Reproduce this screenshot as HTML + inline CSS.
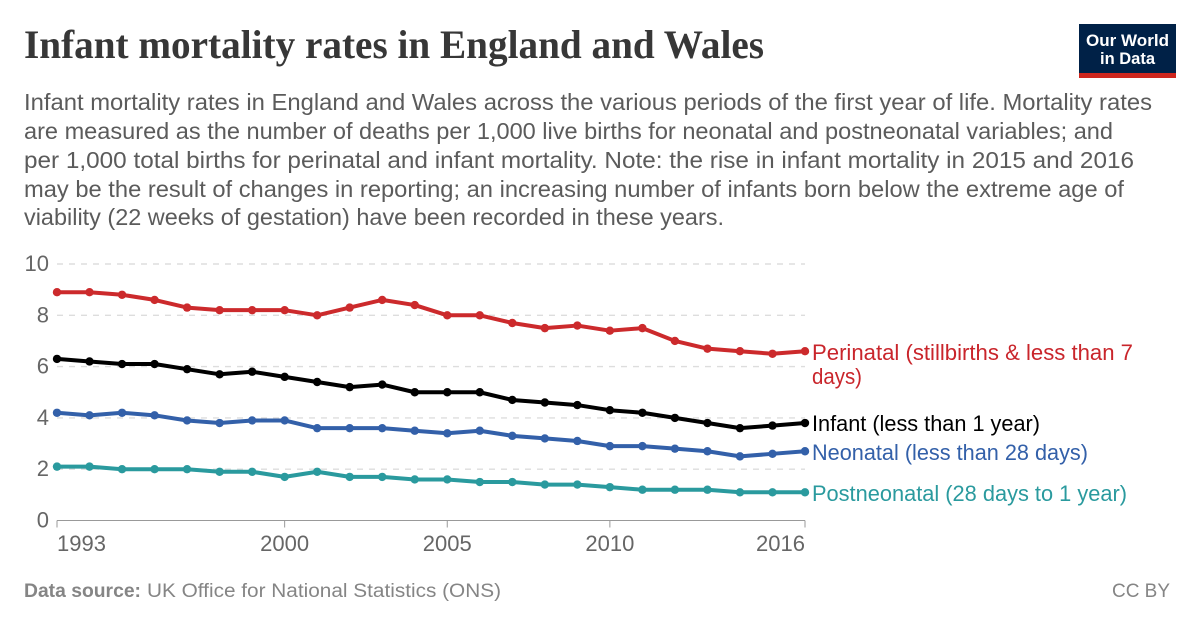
<!DOCTYPE html>
<html lang="en">
<head>
<meta charset="utf-8">
<title>Infant mortality rates in England and Wales</title>
<style>
html,body{margin:0;padding:0;background:#fff;width:1200px;height:627px;overflow:hidden}
svg{display:block}
text{font-family:"Liberation Sans",sans-serif}
.sub{font-size:23px;fill:#5b5b5b}
.foot{font-size:19px;fill:#858585}
.tick{font-size:22px;fill:#666}
.lab{font-size:22.5px}
</style>
</head>
<body>
<svg id="chart" xmlns="http://www.w3.org/2000/svg" width="1200" height="627" viewBox="0 0 1200 627">
  <rect x="0" y="0" width="1200" height="627" fill="#fff"/>
  <text x="24" y="58" textLength="740" lengthAdjust="spacingAndGlyphs" style="font-family:'Liberation Serif',serif;font-weight:700;font-size:40px;fill:#373737">Infant mortality rates in England and Wales</text>

  <g>
    <rect x="1079" y="24" width="97" height="54" fill="#002147"/>
    <rect x="1079" y="73" width="97" height="5" fill="#ce261e"/>
    <text x="1127.5" y="46" text-anchor="middle" textLength="83" lengthAdjust="spacingAndGlyphs" style="font-size:17px;font-weight:700;fill:#fff">Our World</text>
    <text x="1127.5" y="64" text-anchor="middle" textLength="55" lengthAdjust="spacingAndGlyphs" style="font-size:17px;font-weight:700;fill:#fff">in Data</text>
  </g>

  <g>
    <text class="sub" x="24" y="110" textLength="1128" lengthAdjust="spacingAndGlyphs">Infant mortality rates in England and Wales across the various periods of the first year of life. Mortality rates</text>
    <text class="sub" x="24" y="139" textLength="1089" lengthAdjust="spacingAndGlyphs">are measured as the number of deaths per 1,000 live births for neonatal and postneonatal variables; and</text>
    <text class="sub" x="24" y="168" textLength="1110" lengthAdjust="spacingAndGlyphs">per 1,000 total births for perinatal and infant mortality. Note: the rise in infant mortality in 2015 and 2016</text>
    <text class="sub" x="24" y="197" textLength="1100" lengthAdjust="spacingAndGlyphs">may be the result of changes in reporting; an increasing number of infants born below the extreme age of</text>
    <text class="sub" x="24" y="225" textLength="700" lengthAdjust="spacingAndGlyphs">viability (22 weeks of gestation) have been recorded in these years.</text>
  </g>

  <g id="grid"></g>
  <g id="yticks"></g>
  <g id="xaxis"></g>
  <g id="series"></g>

  <g>
    <text class="lab" x="812" y="360" fill="#c9252b" textLength="321" lengthAdjust="spacingAndGlyphs">Perinatal (stillbirths &amp; less than 7</text>
    <text class="lab" x="812" y="384" fill="#c9252b" textLength="50" lengthAdjust="spacingAndGlyphs">days)</text>
    <text class="lab" x="812" y="431" fill="#000" textLength="228" lengthAdjust="spacingAndGlyphs">Infant (less than 1 year)</text>
    <text class="lab" x="812" y="460" fill="#3360a9" textLength="276" lengthAdjust="spacingAndGlyphs">Neonatal (less than 28 days)</text>
    <text class="lab" x="812" y="501" fill="#2a9a9e" textLength="315" lengthAdjust="spacingAndGlyphs">Postneonatal (28 days to 1 year)</text>
  </g>

  <g>
    <text class="foot" x="24" y="597" textLength="117" lengthAdjust="spacingAndGlyphs" style="font-weight:700">Data source:</text>
    <text class="foot" x="147" y="597" textLength="354" lengthAdjust="spacingAndGlyphs">UK Office for National Statistics (ONS)</text>
    <text class="foot" x="1112" y="597" textLength="58" lengthAdjust="spacingAndGlyphs">CC BY</text>
  </g>
</svg>
<script>
const years = [1993,1994,1995,1996,1997,1998,1999,2000,2001,2002,2003,2004,2005,2006,2007,2008,2009,2010,2011,2012,2013,2014,2015,2016];
const perinatal = [8.9,8.9,8.8,8.6,8.3,8.2,8.2,8.2,8.0,8.3,8.6,8.4,8.0,8.0,7.7,7.5,7.6,7.4,7.5,7.0,6.7,6.6,6.5,6.6];
const infant = [6.3,6.2,6.1,6.1,5.9,5.7,5.8,5.6,5.4,5.2,5.3,5.0,5.0,5.0,4.7,4.6,4.5,4.3,4.2,4.0,3.8,3.6,3.7,3.8];
const neonatal = [4.2,4.1,4.2,4.1,3.9,3.8,3.9,3.9,3.6,3.6,3.6,3.5,3.4,3.5,3.3,3.2,3.1,2.9,2.9,2.8,2.7,2.5,2.6,2.7];
const postneonatal = [2.1,2.1,2.0,2.0,2.0,1.9,1.9,1.7,1.9,1.7,1.7,1.6,1.6,1.5,1.5,1.4,1.4,1.3,1.2,1.2,1.2,1.1,1.1,1.1];
const yTickValues = [0,2,4,6,8,10];
const xTickYears = [1993,2000,2005,2010,2016];

const NS = 'http://www.w3.org/2000/svg';
const X0 = 57, X1 = 805, Y0 = 520.5, Y10 = 264;
const xMin = years[0], xMax = years[years.length - 1];
function xScale(v) { return X0 + (v - xMin) / (xMax - xMin) * (X1 - X0); }
function yScale(v) { return Y0 - v / 10 * (Y0 - Y10); }
function make(tag, attrs, parent) {
  const el = document.createElementNS(NS, tag);
  for (const k in attrs) el.setAttribute(k, attrs[k]);
  parent.appendChild(el);
  return el;
}

const grid = document.getElementById('grid');
const yAxis = document.getElementById('yticks');
yTickValues.forEach(function (v) {
  if (v > 0) {
    const line = make('line', {x1: X0, x2: X1, y1: yScale(v), y2: yScale(v), stroke: '#dddddd', 'stroke-width': 1.4, 'stroke-dasharray': '6,6'}, grid);
    
    
  }
  const t = make('text', {x: 49, y: yScale(v) + 7, 'text-anchor': 'end', class: 'tick'}, yAxis);
  t.textContent = v;
  
  
});

const xAxis = document.getElementById('xaxis');
const baseline = make('line', {x1: X0, x2: X1, y1: Y0, y2: Y0, stroke: '#999', 'stroke-width': 1}, xAxis);


xTickYears.forEach(function (yr, i) {
  const x = xScale(yr);
  const tick = make('line', {x1: x, x2: x, y1: Y0, y2: Y0 + 7, stroke: '#999', 'stroke-width': 1}, xAxis);
  
  
  const anchor = i === 0 ? 'start' : (i === xTickYears.length - 1 ? 'end' : 'middle');
  const t = make('text', {x: x, y: 551, 'text-anchor': anchor, class: 'tick'}, xAxis);
  t.textContent = yr;
  
  
});

const seriesLayer = document.getElementById('series');
function drawSeries(name, values, color) {
  const g = make('g', {}, seriesLayer);
  
  
  const pts = values.map(function (v, i) { return xScale(years[i]) + ',' + yScale(v); }).join(' ');
  const line = make('polyline', {points: pts, fill: 'none', stroke: color, 'stroke-width': 4, 'stroke-linejoin': 'round'}, g);
  
  
  values.forEach(function (v, i) {
    const c = make('circle', {cx: xScale(years[i]), cy: yScale(v), r: 4.2, fill: color}, g);
    
    
  });
}
drawSeries('perinatal', perinatal, '#cc2a2c');
drawSeries('infant', infant, '#000000');
drawSeries('neonatal', neonatal, '#3360a9');
drawSeries('postneonatal', postneonatal, '#2a9a9e');
</script>
</body>
</html>
